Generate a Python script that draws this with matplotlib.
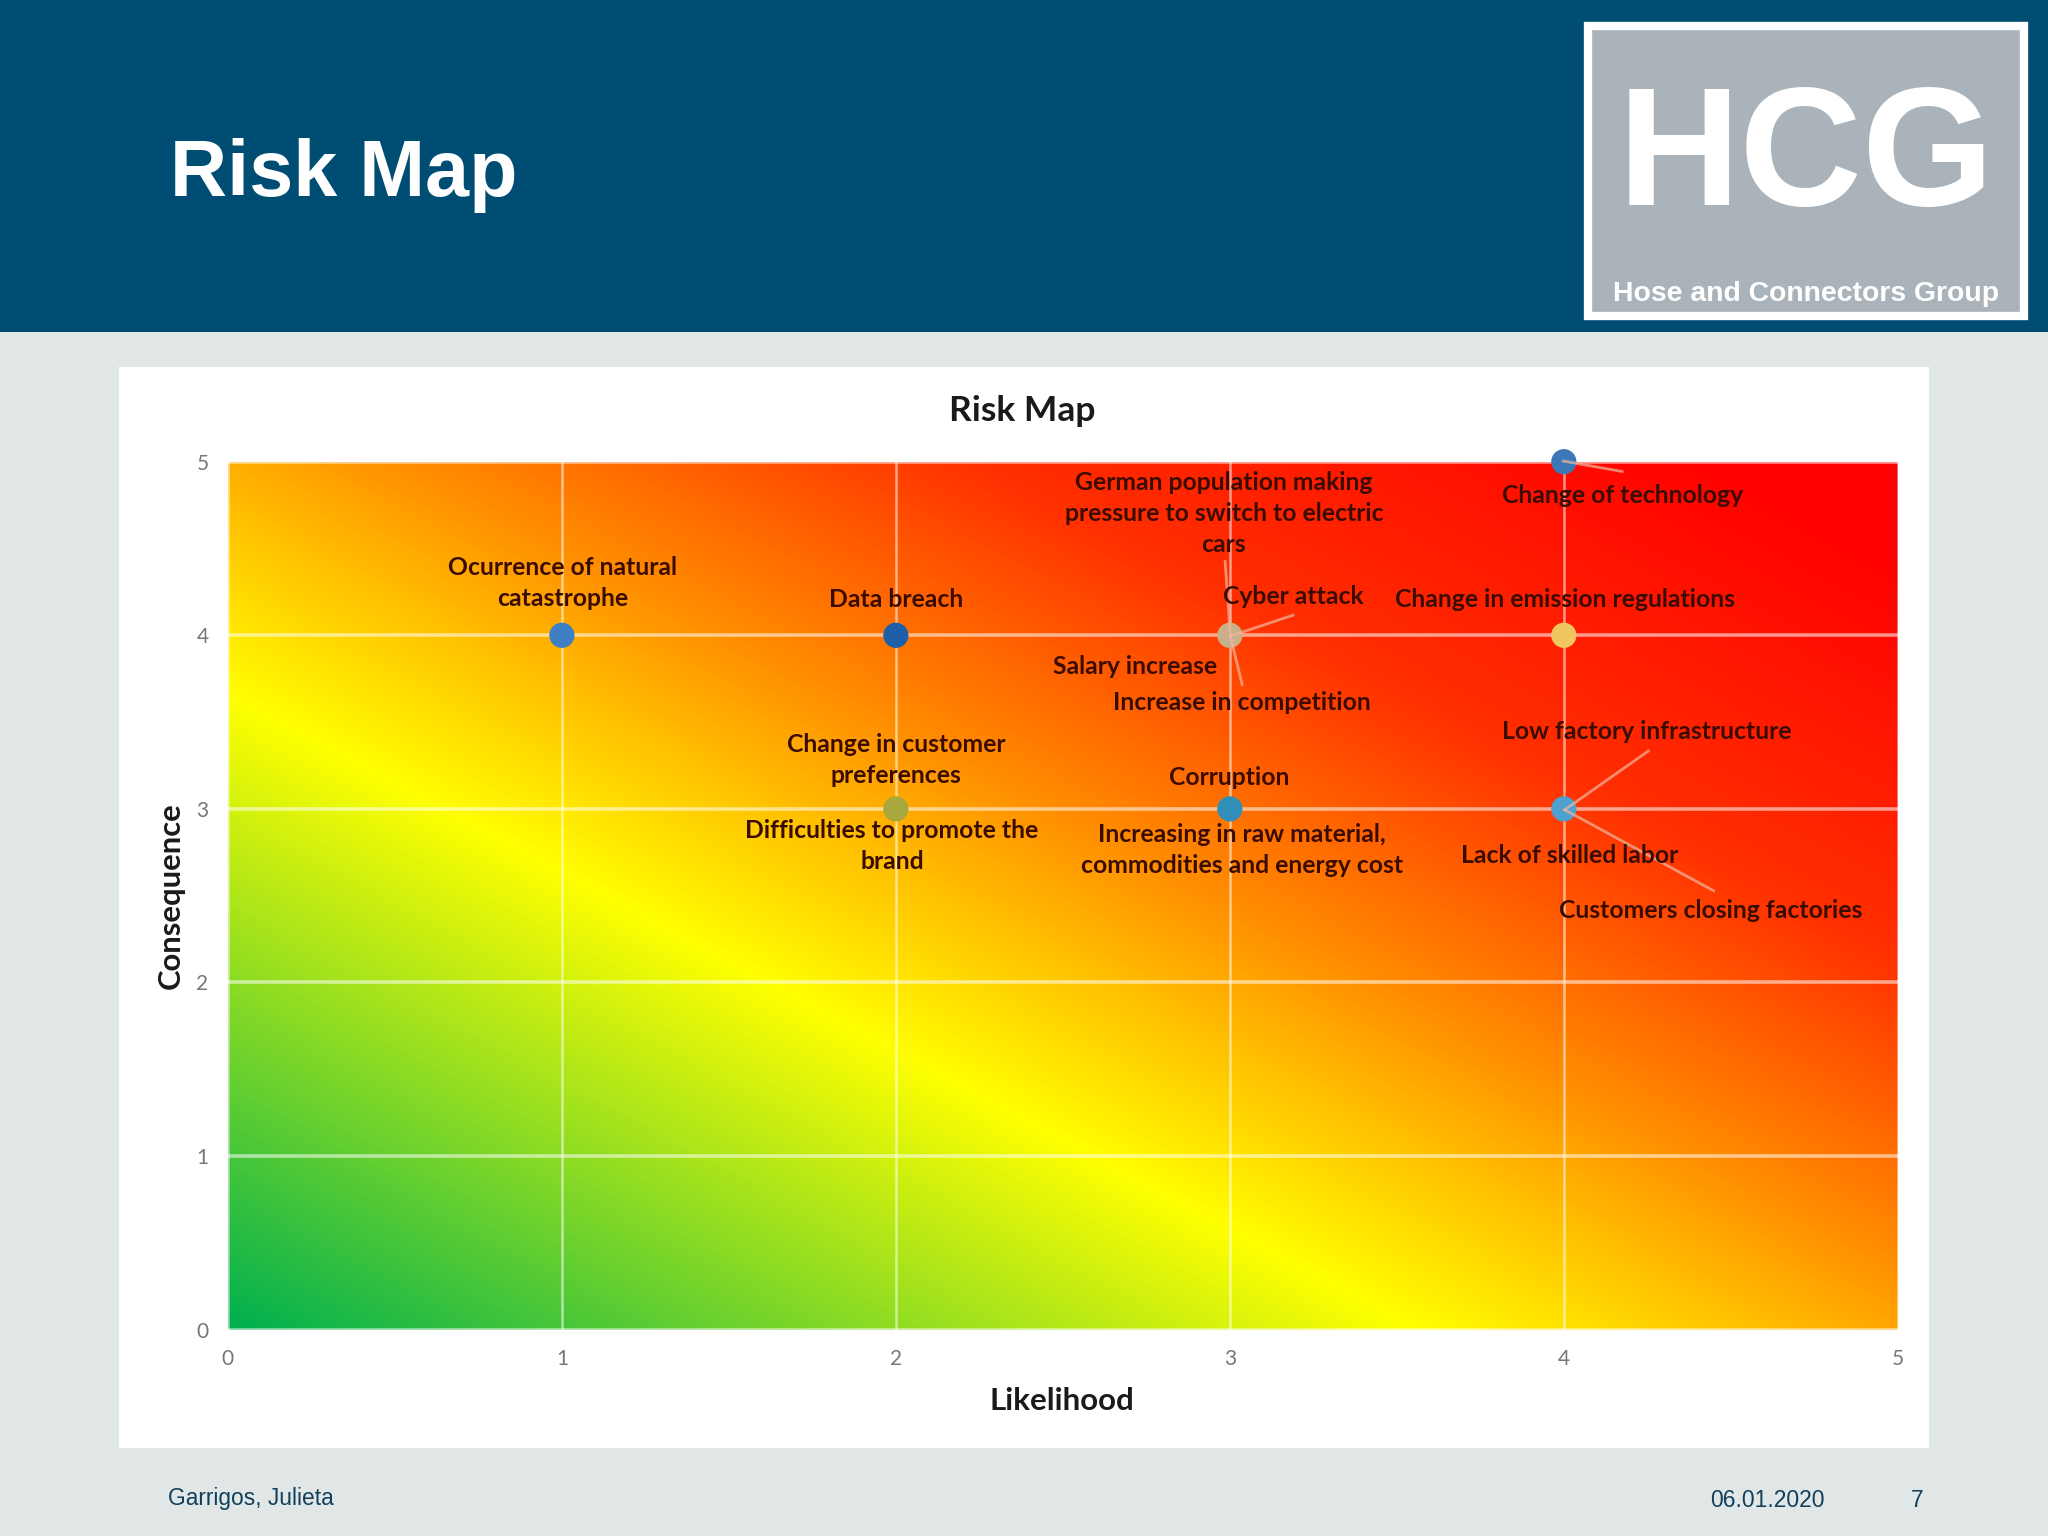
import numpy as np
import matplotlib
matplotlib.use('Agg')
from matplotlib import pyplot as plt
from matplotlib.colors import LinearSegmentedColormap
from matplotlib.patches import Rectangle

# points of the risk map
likelihood = [1, 2, 2, 3, 3, 4, 4, 4]
consequence = [4, 4, 3, 4, 3, 5, 4, 3]
point_colors = ['#3f7fc4', '#1f5fa8', '#a8a83c', '#c9b08a', '#2f8fb8', '#3a78b8', '#f2c65e', '#4fa0cc']

ticks = [0, 1, 2, 3, 4, 5]

# label text and position on the page (reference px of 1568 wide picture)
labels = ['Ocurrence of natural\ncatastrophe', 'Data breach', 'German population making\npressure to switch to electric\ncars',
          'Cyber attack', 'Change of technology', 'Change in emission regulations', 'Salary increase',
          'Increase in competition', 'Low factory infrastructure', 'Change in customer\npreferences',
          'Corruption', 'Difficulties to promote the\nbrand', 'Increasing in raw material,\ncommodities and energy cost',
          'Lack of skilled labor', 'Customers closing factories']
label_x = [431, 686, 937, 990, 1242, 1198, 869, 951, 1261, 686, 941, 683, 951, 1202, 1310]
label_y = [446, 459, 393, 457, 379, 459, 510, 538, 560, 582, 595, 648, 651, 655, 697]

# leader lines, start and end in page px
leader_x = [[1197, 1242], [942, 990], [942, 938], [942, 951], [1198, 1262], [1198, 1312]]
leader_y = [[353, 361], [487, 471], [487, 430], [487, 524], [620, 575], [620, 682]]

W, H = 1568.0, 1176.0
fig = plt.figure(figsize=(20.48, 15.36), dpi=100, facecolor='#e1e7e7')

# page layer in px
bg = fig.add_axes([0, 0, 1, 1])
bg.set_xlim(0, W)
bg.set_ylim(H, 0)
bg.axis('off')
bg.add_patch(Rectangle((0, 0), W, 254, fc='#004d73', ec='none'))
bg.add_patch(Rectangle((91, 281), 1386, 828, fc='white', ec='none'))
bg.add_patch(Rectangle((1216, 20), 334, 222, fc='#a9b3b9', ec='white', lw=6))
bg.text(130, 134, 'Risk Map', color='white', fontsize=57, fontweight='bold', family='Liberation Sans', va='center')
bg.text(1383, 123, 'HCG', color='white', fontsize=122, fontweight='bold', family='Liberation Sans', ha='center', va='center')
bg.text(1383, 225, 'Hose and Connectors Group', color='white', fontsize=20.4, fontweight='bold', family='Liberation Sans', ha='center', va='center')
bg.text(129, 1147, 'Garrigos, Julieta', color='#12405c', fontsize=16.4, family='Liberation Sans', va='center')
bg.text(1309, 1149, '06.01.2020', color='#12405c', fontsize=16.5, family='Liberation Sans', va='center')
bg.text(1463, 1149, '7', color='#12405c', fontsize=16.5, family='Liberation Sans', va='center')
bg.text(783, 315, 'Risk Map', color='#1a1a1a', fontsize=25.5, fontweight='bold', family='Lato', ha='center', va='center')
bg.text(813, 1073, 'Likelihood', color='#1a1a1a', fontsize=22.5, fontweight='bold', family='Lato', ha='center', va='center')
bg.text(131, 686, 'Consequence', color='#1a1a1a', fontsize=22.3, fontweight='bold', family='Lato', ha='center', va='center', rotation=90)

# chart
ax = fig.add_axes([174.5 / W, 1 - 1018 / H, (1453 - 174.5) / W, (1018 - 353.5) / H])
ax.set_xlim(0, 5)
ax.set_ylim(0, 5)
u, v = np.meshgrid(np.linspace(0, 1, 400), np.linspace(0, 1, 400))
grad = (u / 0.71 + v / 0.73) / (1 / 0.71 + 1 / 0.73)
cmap = LinearSegmentedColormap.from_list('risk', [(0, '#00b050'), (0.36, '#ffff00'), (0.55, '#ff8c00'), (0.72, '#ff3000'), (0.95, '#ff0000'), (1, '#ff0000')])
ax.imshow(grad, cmap=cmap, vmin=0, vmax=1, origin='lower', extent=[0, 5, 0, 5], aspect='auto', interpolation='bilinear')
ax.set_xticks(ticks)
ax.set_yticks(ticks)
ax.grid(axis='x', color='white', alpha=0.55, lw=1.8)
ax.grid(axis='y', color='white', alpha=0.55, lw=2.6)
ax.tick_params(length=0, labelsize=15, labelcolor='#777777', pad=14)
for t in ax.get_xticklabels() + ax.get_yticklabels():
    t.set_family('Lato')
for s in ax.spines.values():
    s.set_visible(False)
ax.set_axisbelow(False)
ax.scatter(likelihood, consequence, s=330, c=point_colors, edgecolors='none', zorder=5, clip_on=False)

# top layer for text and leader lines
top = fig.add_axes([0, 0, 1, 1], facecolor='none')
top.set_xlim(0, W)
top.set_ylim(H, 0)
top.axis('off')
for xs, ys in zip(leader_x, leader_y):
    top.plot(xs, ys, color='#f0b8a0', lw=2, alpha=0.7)
for t, x, y in zip(labels, label_x, label_y):
    top.text(x, y, t, color='#3a0c00', fontsize=17.8, fontweight='bold', family='Lato', ha='center', va='center', linespacing=1.42)

fig.savefig('out.png', dpi=100)
